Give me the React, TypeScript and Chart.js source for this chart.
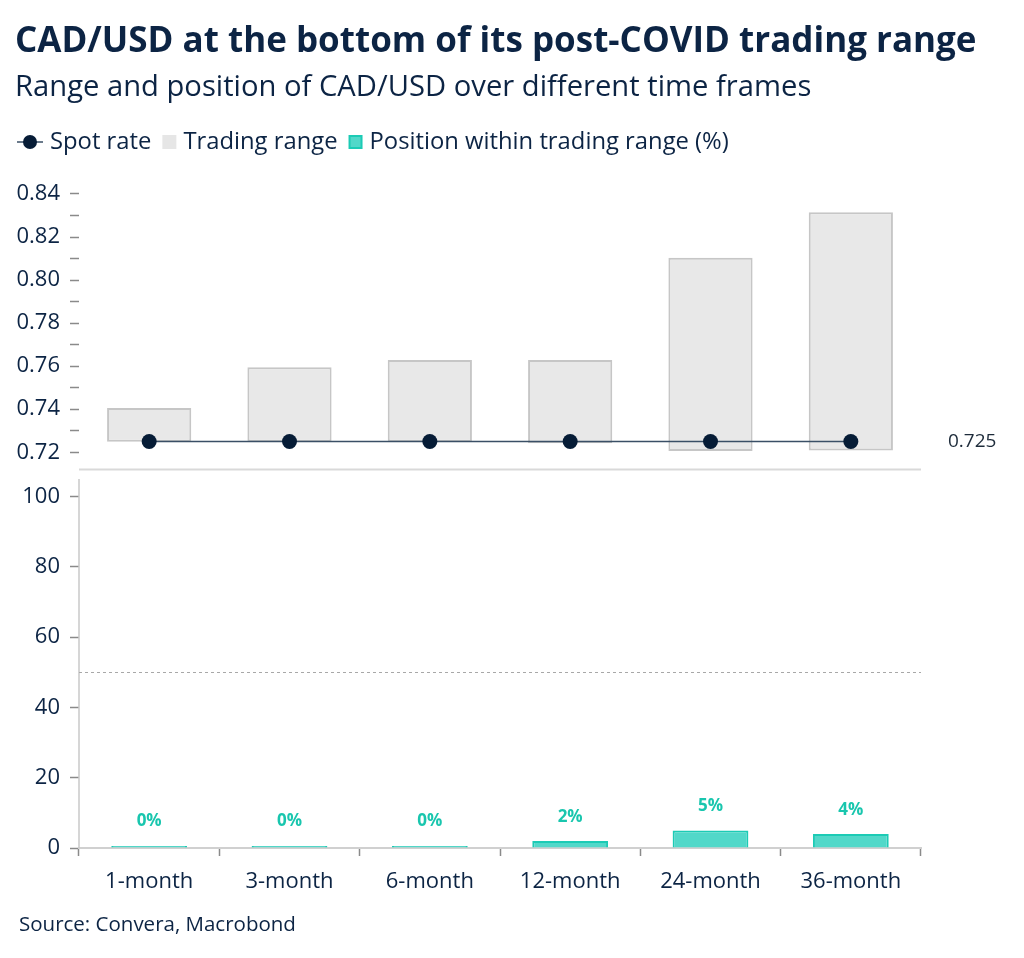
import React, { useEffect, useRef } from "react";
import { Chart, registerables } from "chart.js";

Chart.register(...registerables);

// Time frames on the shared x axis
const categories = ["1-month", "3-month", "6-month", "12-month", "24-month", "36-month"];
// CAD/USD low and high over each time frame
const rangeLow = [0.7249, 0.7249, 0.7249, 0.7242, 0.7206, 0.7208];
const rangeHigh = [0.7406, 0.7595, 0.7628, 0.7628, 0.8104, 0.8315];
// Current spot rate
const spotRate = [0.725, 0.725, 0.725, 0.725, 0.725, 0.725];
// Where the spot sits within each range (%)
const positionPct = [0, 0, 0, 2, 5, 4];
// Axis tick values
const rateTicks = [0.72, 0.74, 0.76, 0.78, 0.8, 0.82, 0.84];
const pctTicks = [0, 20, 40, 60, 80, 100];

const TITLE = "CAD/USD at the bottom of its post-COVID trading range";
const SUBTITLE = "Range and position of CAD/USD over different time frames";
const SOURCE = "Source: Convera, Macrobond";

const NAVY = "#0c2444";
const DOT = "#061c36";
const TEAL_FILL = "#52d8c9";
const TEAL_LINE = "#1ccbb5";
const TEAL_TEXT = "#19c6ae";
const RANGE_FILL = "#e8e8e8";
const RANGE_LINE = "#c6c6c6";
const FONT = "'Open Sans', 'Noto Sans', sans-serif";

const extrasPlugin = {
  id: "extras",
  beforeDatasetsDraw(chart: any) {
    const { ctx, chartArea, scales } = chart;
    const yR = scales.yRange;
    const yP = scales.yPos;
    ctx.save();
    // divider under the rate panel
    ctx.strokeStyle = "#d9d9d9";
    ctx.lineWidth = 2;
    ctx.beginPath();
    ctx.moveTo(chartArea.left, yR.bottom);
    ctx.lineTo(chartArea.right, yR.bottom);
    ctx.stroke();
    // vertical axis line of the position panel
    ctx.strokeStyle = "#c8c8c8";
    ctx.lineWidth = 1.5;
    ctx.beginPath();
    ctx.moveTo(chartArea.left, yP.getPixelForValue(105));
    ctx.lineTo(chartArea.left, yP.bottom);
    ctx.stroke();
    // 50% reference line
    const y50 = Math.round(yP.getPixelForValue(50)) + 0.5;
    ctx.strokeStyle = "#a8a8a8";
    ctx.lineWidth = 1;
    ctx.setLineDash([3, 3]);
    ctx.beginPath();
    ctx.moveTo(chartArea.left, y50);
    ctx.lineTo(chartArea.right, y50);
    ctx.stroke();
    ctx.restore();
  },
  afterDraw(chart: any) {
    const { ctx, chartArea, scales } = chart;
    const yR = scales.yRange;
    ctx.save();

    // value labels over the position bars
    const meta = chart.getDatasetMeta(2);
    ctx.font = `bold 17px ${FONT}`;
    ctx.fillStyle = TEAL_TEXT;
    ctx.textAlign = "center";
    ctx.textBaseline = "middle";
    meta.data.forEach((bar: any, i: number) => {
      const top = Math.min(bar.y, bar.base - 2);
      ctx.fillText(`${positionPct[i]}%`, bar.x, top - 24);
    });

    // spot value at the right end of the line
    ctx.font = `19px ${FONT}`;
    ctx.fillStyle = "#1d2b3a";
    ctx.textAlign = "left";
    ctx.fillText(spotRate[spotRate.length - 1].toFixed(3), chartArea.right + 27, yR.getPixelForValue(spotRate[spotRate.length - 1]));

    // legend
    const ly = 142;
    ctx.font = `23.8px ${FONT}`;
    ctx.textBaseline = "middle";
    let x = 17;
    ctx.strokeStyle = "#3a4f66";
    ctx.lineWidth = 1.5;
    ctx.beginPath();
    ctx.moveTo(x, ly);
    ctx.lineTo(x + 26, ly);
    ctx.stroke();
    ctx.fillStyle = DOT;
    ctx.beginPath();
    ctx.arc(x + 13, ly, 7, 0, Math.PI * 2);
    ctx.fill();
    x += 26 + 7;
    const labels = ["Spot rate", "Trading range", "Position within trading range (%)"];
    ctx.fillStyle = NAVY;
    ctx.fillText(labels[0], x, ly);
    x += ctx.measureText(labels[0]).width + 11;
    ctx.fillStyle = "#e6e6e6";
    ctx.fillRect(x, ly - 7, 14, 14);
    x += 14 + 7;
    ctx.fillStyle = NAVY;
    ctx.fillText(labels[1], x, ly);
    x += ctx.measureText(labels[1]).width + 11;
    ctx.fillStyle = TEAL_LINE;
    ctx.fillRect(x, ly - 7, 14, 14);
    ctx.fillStyle = TEAL_FILL;
    ctx.fillRect(x + 2, ly - 5, 10, 10);
    x += 14 + 7;
    ctx.fillStyle = NAVY;
    ctx.fillText(labels[2], x, ly);

    // source note
    ctx.font = `20.5px ${FONT}`;
    ctx.fillStyle = NAVY;
    ctx.fillText(SOURCE, 19, 925);
    ctx.restore();
  },
};

export default function App() {
  const canvasRef = useRef<HTMLCanvasElement | null>(null);

  useEffect(() => {
    document.body.style.margin = "0";
    const canvas = canvasRef.current;
    if (!canvas) return;

    const fixWidth = (scale: any) => {
      scale.width = 64;
    };

    const chart = new Chart(canvas, {
      type: "bar",
      data: {
        labels: categories,
        datasets: [
          {
            type: "line",
            label: "Spot rate",
            data: spotRate,
            yAxisID: "yRange",
            borderColor: "#3a4f66",
            borderWidth: 1.5,
            pointRadius: 7.5,
            pointBackgroundColor: DOT,
            pointBorderColor: DOT,
            pointBorderWidth: 0,
            order: 0,
          } as any,
          {
            type: "bar",
            label: "Trading range",
            data: rangeLow.map((lo, i) => [lo, rangeHigh[i]]),
            yAxisID: "yRange",
            backgroundColor: RANGE_FILL,
            borderColor: RANGE_LINE,
            borderWidth: 2,
            borderSkipped: false,
            grouped: false,
            categoryPercentage: 1,
            barPercentage: 0.6,
            order: 1,
          } as any,
          {
            type: "bar",
            label: "Position within trading range (%)",
            data: positionPct,
            yAxisID: "yPos",
            backgroundColor: TEAL_FILL,
            borderColor: TEAL_LINE,
            borderWidth: 2,
            grouped: false,
            categoryPercentage: 1,
            barPercentage: 0.54,
            minBarLength: 2,
            order: 2,
          } as any,
        ],
      },
      options: {
        responsive: false,
        animation: false,
        layout: { padding: { left: 15, right: 0, top: 0, bottom: 49.6 } },
        plugins: {
          legend: { display: false },
          tooltip: { enabled: false },
          title: {
            display: true,
            text: TITLE,
            align: "start",
            color: NAVY,
            font: { family: FONT, size: 35, weight: "bold", lineHeight: 1.2 },
            padding: { top: 21, bottom: 4 },
          },
          subtitle: {
            display: true,
            text: SUBTITLE,
            align: "start",
            color: NAVY,
            font: { family: FONT, size: 29.2, weight: "normal", lineHeight: 1.2 },
            padding: { top: 3.5, bottom: 75.5 },
          },
        },
        scales: {
          x: {
            type: "category",
            offset: true,
            grid: {
              offset: true,
              drawOnChartArea: false,
              drawTicks: true,
              tickLength: 8,
              tickColor: "#8a8a8a",
              tickWidth: 1.5,
            },
            border: { display: true, color: "#d0d0d0", width: 2 },
            ticks: {
              color: NAVY,
              font: { family: FONT, size: 22 },
              padding: 13,
              maxRotation: 0,
            },
          },
          yPos: {
            type: "linear",
            position: "left",
            stack: "panels",
            stackWeight: 378,
            min: 0,
            max: 107.7,
            afterFit: fixWidth,
            afterBuildTicks: (scale: any) => {
              scale.ticks = pctTicks.map((v) => ({ value: v }));
            },
            grid: {
              drawOnChartArea: false,
              drawTicks: true,
              tickLength: 9,
              tickColor: "#8a8a8a",
              tickWidth: 1.5,
            },
            border: { display: false },
            ticks: {
              color: NAVY,
              font: { family: FONT, size: 22 },
              padding: 10,
              callback: (v: any) => String(v),
            },
          },
          yRange: {
            type: "linear",
            position: "left",
            stack: "panels",
            stackWeight: 288,
            min: 0.712,
            max: 0.846,
            afterFit: fixWidth,
            afterBuildTicks: (scale: any) => {
              const out: any[] = [];
              for (let k = 72; k <= 84; k++) out.push({ value: k / 100 });
              scale.ticks = out;
            },
            grid: {
              drawOnChartArea: false,
              drawTicks: true,
              tickLength: 9,
              tickColor: "#8a8a8a",
              tickWidth: 1.5,
            },
            border: { display: false },
            ticks: {
              color: NAVY,
              font: { family: FONT, size: 22 },
              padding: 10,
              autoSkip: false,
              callback: (v: any) => {
                const hit = rateTicks.find((t) => Math.abs(t - v) < 1e-6);
                return hit !== undefined ? hit.toFixed(2) : "";
              },
            },
          },
          // empty right-hand gutter that holds the spot value label
          gutter: {
            type: "linear",
            position: "right",
            afterFit: (scale: any) => {
              scale.width = 103;
            },
            grid: { display: false, drawTicks: false },
            border: { display: false },
            ticks: { display: false },
          },
        },
      },
      plugins: [extrasPlugin],
    });

    return () => chart.destroy();
  }, []);

  return (
    <div style={{ position: "absolute", left: 0, top: 0, width: 1024, height: 958, background: "#fff" }}>
      <canvas ref={canvasRef} width={1024} height={958} />
    </div>
  );
}
